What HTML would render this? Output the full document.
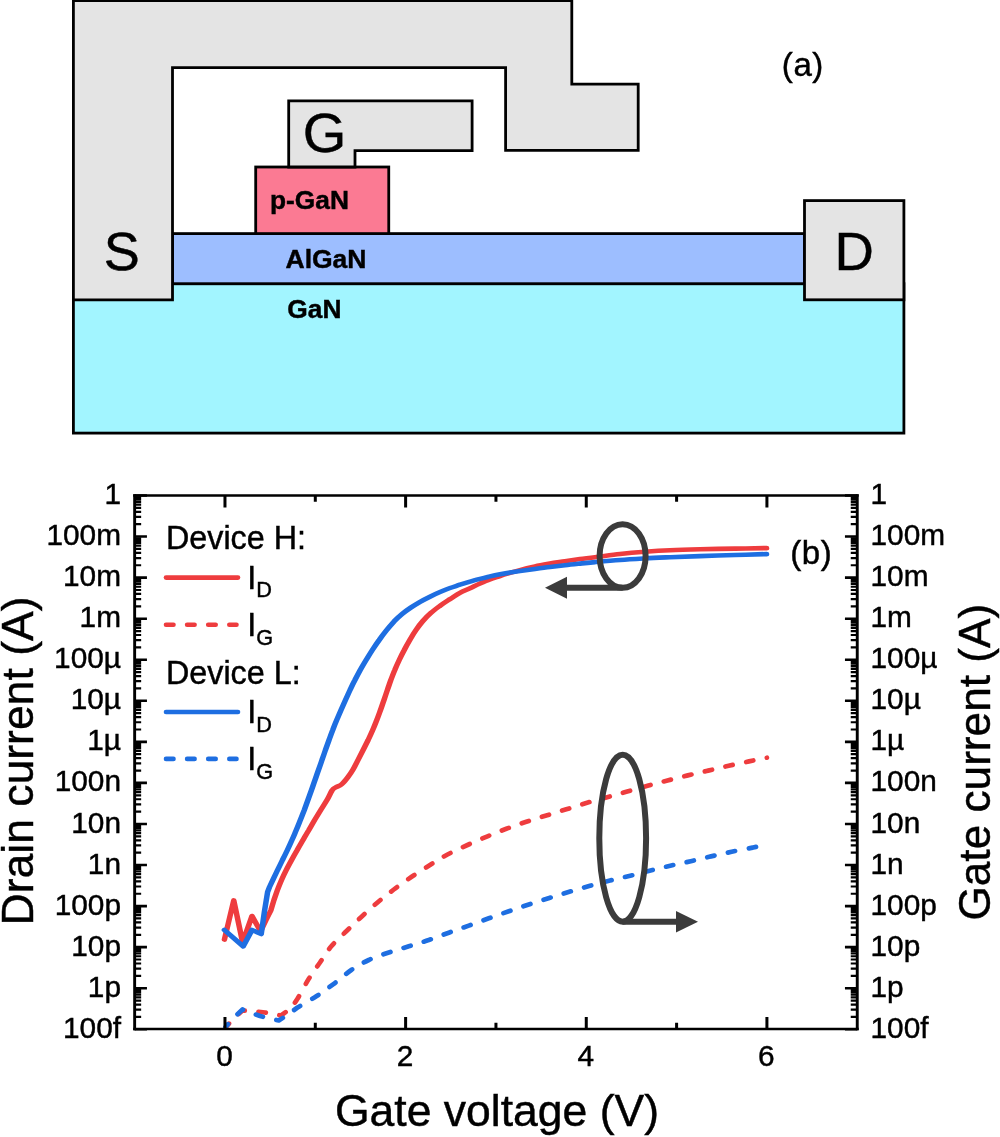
<!DOCTYPE html><html><head><meta charset="utf-8"><title>Figure</title>
<style>html,body{margin:0;padding:0;background:#fff}svg{display:block}text{font-family:"Liberation Sans",Arial,sans-serif;fill:#000;stroke:#000;stroke-width:0.45px}</style></head><body>
<svg width="1000" height="1137" viewBox="0 0 1000 1137">
<rect width="1000" height="1137" fill="#fff"/>
<g stroke="#000" stroke-width="2.8" stroke-linejoin="miter">
<rect x="73.4" y="283.7" width="830.5" height="149.4" fill="#a2f5ff"/>
<rect x="172.5" y="233.6" width="632" height="50.1" fill="#9dbeff"/>
<rect x="255.7" y="167" width="133.05" height="66.6" fill="#fb7a93"/>
<polygon points="288.7,100.9 472.1,100.9 472.1,150.6 355,150.6 355,167 288.7,167" fill="#e4e4e4"/>
<polygon points="73.4,0.7 571.8,0.7 571.8,84.2 638.2,84.2 638.2,150.3 505.6,150.3 505.6,67.6 172.5,67.6 172.5,299.8 73.4,299.8" fill="#e4e4e4"/>
<rect x="804.5" y="200.6" width="99.4" height="99.2" fill="#e4e4e4"/>
</g>
<text x="103.7" y="269.8" font-size="54">S</text>
<text x="302.7" y="152.3" font-size="56">G</text>
<text x="834.5" y="270" font-size="54.5">D</text>
<text x="270" y="208.7" font-size="26.3" font-weight="bold">p-GaN</text>
<text x="285.5" y="268.3" font-size="26.5" font-weight="bold">AlGaN</text>
<text x="287.3" y="317.6" font-size="26.3" font-weight="bold">GaN</text>
<text x="781.8" y="76" font-size="33" letter-spacing="0.6">(a)</text>
<clipPath id="pc"><rect x="134.65" y="495.5" width="722.6" height="533.5"/></clipPath>
<g fill="none" stroke-linejoin="round" stroke-linecap="round" clip-path="url(#pc)">
<path d="M766.9,757.7 C763.9,758.3 755.4,760.0 749.0,761.4 C742.6,762.8 735.4,764.3 728.6,765.8 C721.8,767.3 715.0,769.0 708.2,770.6 C701.4,772.2 694.6,773.8 687.8,775.4 C681.0,777.0 674.2,778.8 667.5,780.5 C660.8,782.2 654.4,783.9 647.5,785.8 C640.6,787.7 633.2,789.8 626.3,791.8 C619.4,793.8 613.0,795.6 606.3,797.5 C599.6,799.4 593.0,801.0 586.3,803.0 C579.6,805.0 573.0,807.2 566.3,809.3 C559.6,811.4 553.0,813.4 546.3,815.5 C539.6,817.6 533.0,819.6 526.3,821.8 C519.6,824.0 512.8,826.4 506.3,828.8 C499.8,831.2 494.0,833.6 487.5,836.3 C481.0,839.0 474.2,842.0 467.5,845.0 C460.8,848.0 453.8,851.2 447.5,854.5 C441.2,857.8 436.0,861.2 430.0,865.0 C424.0,868.8 417.3,872.9 411.3,877.0 C405.3,881.1 399.4,885.2 393.8,889.5 C388.2,893.8 382.9,897.9 377.5,902.5 C372.1,907.1 366.5,912.2 361.3,917.0 C356.1,921.8 351.3,926.4 346.3,931.3 C341.3,936.2 335.7,941.1 331.3,946.3 C326.9,951.5 323.8,957.1 320.0,962.5 C316.2,967.9 312.6,972.8 308.8,978.8 C305.1,984.8 300.6,993.8 297.5,998.8 C294.4,1003.8 291.2,1007.3 290.0,1009.0 L281.0,1015.5 L265.0,1012.5 L252.0,1011.0 L242.5,1010.5 L234.0,1018.0 L226.0,1027.0" stroke="#ee3c3e" stroke-width="4.7" stroke-dasharray="7.4 13.75" stroke-dashoffset="7.3"/>
<path d="M766.9,844.6 C764.5,845.1 758.5,846.4 752.6,847.6 C746.7,848.8 738.5,850.3 731.6,851.8 C724.7,853.3 717.8,854.8 711.0,856.4 C704.2,858.0 697.4,859.7 690.8,861.2 C684.2,862.7 677.7,864.0 671.3,865.5 C664.9,867.0 659.2,868.3 652.5,870.0 C645.8,871.7 638.4,873.8 631.3,875.5 C624.2,877.2 616.9,878.8 610.0,880.5 C603.1,882.2 596.8,883.9 590.0,885.8 C583.2,887.7 576.1,889.8 569.3,891.8 C562.5,893.8 556.0,895.9 549.3,898.0 C542.5,900.1 535.5,902.3 528.8,904.5 C522.0,906.7 515.5,909.0 508.8,911.3 C502.1,913.6 495.5,915.9 488.8,918.3 C482.1,920.7 475.5,923.2 468.8,925.6 C462.1,928.0 455.5,930.3 448.8,932.7 C442.1,935.1 435.5,937.7 428.8,940.0 C422.1,942.3 415.5,944.2 408.8,946.3 C402.1,948.4 395.5,950.2 388.8,952.5 C382.1,954.8 375.1,957.1 368.8,960.0 C362.6,962.9 357.1,966.0 351.3,970.0 C345.5,974.0 339.6,979.4 333.8,983.8 C328.0,988.2 322.4,992.3 316.3,996.3 C310.2,1000.2 300.6,1005.6 297.5,1007.5 L288.0,1014.5 L278.8,1020.5 L270.0,1018.5 L260.0,1016.0 L250.0,1012.5 L242.5,1009.5 L234.0,1017.5 L225.5,1027.0" stroke="#1e6ee1" stroke-width="4.7" stroke-dasharray="7.4 13.75" stroke-dashoffset="9.9"/>
<g transform="scale(1.2 1)" stroke-width="4.6">
<path d="M187.0,939.6 L194.8,900.4 L202.2,942.5 L210.0,916.0 L217.2,931.5 L221.7,920.0 L225.7,910.4 L228.3,900.0 L231.3,889.7 C231.9,888.0 233.5,883.0 234.7,879.8 C235.9,876.5 237.2,873.2 238.6,869.9 C240.0,866.6 241.5,863.3 243.0,860.0 C244.5,856.7 246.1,853.3 247.7,850.0 C249.2,846.7 250.9,843.3 252.5,840.0 C254.1,836.7 255.7,833.3 257.4,830.0 C259.0,826.7 260.6,823.3 262.2,820.0 C263.9,816.7 265.6,813.3 267.3,810.0 C269.0,806.7 270.9,803.2 272.5,800.0 C274.1,796.8 275.5,792.6 276.7,790.5 C277.8,788.4 278.2,788.6 279.6,787.5 C281.0,786.4 283.3,785.8 285.0,784.0 C286.7,782.2 288.5,779.4 290.0,777.0 C291.5,774.6 292.8,772.4 294.2,769.5 C295.6,766.6 297.0,763.1 298.4,759.8 C299.8,756.6 301.2,753.3 302.6,750.0 C304.0,746.7 305.4,743.3 306.8,740.0 C308.1,736.7 309.4,733.3 310.6,730.0 C311.8,726.7 312.9,723.3 314.0,720.0 C315.1,716.7 316.1,713.3 317.1,710.0 C318.1,706.7 319.0,703.3 320.0,700.0 C320.9,696.7 321.9,693.3 322.8,690.0 C323.8,686.7 324.7,683.3 325.7,680.0 C326.8,676.7 327.8,673.3 329.0,670.0 C330.1,666.7 331.4,663.3 332.7,660.0 C334.0,656.7 335.4,653.3 336.9,650.0 C338.3,646.7 339.9,643.3 341.5,640.0 C343.1,636.7 344.8,633.3 346.6,630.2 C348.4,627.0 350.3,623.8 352.4,621.0 C354.5,618.1 356.7,615.4 359.1,612.9 C361.5,610.3 364.2,608.0 366.8,605.7 C369.4,603.4 372.2,601.3 375.0,599.1 C377.8,597.0 380.6,594.6 383.3,592.8 C386.1,591.0 388.9,589.8 391.7,588.2 C394.4,586.7 397.2,585.0 400.0,583.5 C402.8,582.0 405.6,580.5 408.3,579.3 C411.1,578.0 413.9,577.1 416.7,576.0 C419.4,574.9 422.2,573.9 425.0,572.9 C427.8,571.9 429.9,571.2 433.3,570.1 C436.8,569.0 441.7,567.6 445.8,566.5 C450.0,565.4 454.2,564.5 458.3,563.6 C462.5,562.7 466.7,562.0 470.8,561.2 C475.0,560.5 479.2,559.8 483.3,559.1 C487.5,558.4 490.3,558.1 495.8,557.2 C501.4,556.4 509.7,554.9 516.7,554.0 C523.6,553.1 530.6,552.4 537.5,551.8 C544.4,551.2 550.7,550.7 558.3,550.3 C566.0,549.9 574.3,549.6 583.3,549.3 C592.4,549.0 603.3,548.8 612.5,548.6 C621.7,548.4 634.4,548.2 638.8,548.1" stroke="#ee3c3e"/>
<path d="M187.0,930.0 L202.7,946.4 L210.0,930.0 L217.7,934.0 L220.3,912.0 L223.0,892.0 L224.6,887.0 L227.8,878.9 C228.4,877.4 230.2,873.0 231.4,869.8 C232.7,866.7 234.1,863.3 235.4,860.0 C236.8,856.7 238.2,853.3 239.5,850.0 C240.8,846.7 242.1,843.3 243.3,840.0 C244.6,836.7 245.7,833.3 246.9,830.0 C248.1,826.7 249.2,823.3 250.3,820.0 C251.4,816.7 252.5,813.3 253.6,810.0 C254.6,806.7 255.6,803.3 256.6,800.0 C257.6,796.7 258.6,793.3 259.6,790.0 C260.6,786.7 261.5,783.3 262.5,780.0 C263.5,776.7 264.4,773.3 265.4,770.0 C266.4,766.7 267.4,763.3 268.3,760.0 C269.3,756.7 270.3,753.3 271.2,750.0 C272.2,746.7 273.2,743.3 274.2,740.0 C275.2,736.7 276.2,733.3 277.3,730.0 C278.3,726.7 279.4,723.3 280.6,720.0 C281.8,716.7 283.0,713.3 284.2,710.0 C285.4,706.7 286.7,703.3 287.9,700.0 C289.2,696.7 290.4,693.3 291.7,690.0 C293.0,686.7 294.3,683.3 295.8,680.0 C297.2,676.7 298.7,673.3 300.2,670.0 C301.8,666.7 303.4,663.3 305.1,660.0 C306.8,656.7 308.5,653.3 310.3,650.0 C312.1,646.7 314.0,643.3 316.0,640.0 C317.9,636.7 320.0,633.3 322.1,630.2 C324.2,627.1 326.4,624.1 328.5,621.3 C330.7,618.6 332.9,616.2 335.2,613.9 C337.5,611.6 339.8,609.6 342.3,607.6 C344.8,605.6 347.4,603.7 350.1,601.8 C352.8,600.0 355.6,598.3 358.3,596.7 C361.1,595.0 363.9,593.4 366.7,592.0 C369.4,590.6 372.2,589.2 375.0,588.0 C377.8,586.8 380.6,585.8 383.3,584.7 C386.1,583.7 388.9,582.7 391.7,581.7 C394.4,580.7 397.2,579.8 400.0,578.9 C402.8,578.0 405.6,577.2 408.3,576.4 C411.1,575.6 413.9,574.9 416.7,574.3 C419.4,573.7 422.2,573.1 425.0,572.6 C427.8,572.1 429.9,571.7 433.3,571.1 C436.8,570.5 441.7,569.7 445.8,569.0 C450.0,568.3 454.2,567.6 458.3,567.0 C462.5,566.4 466.7,565.8 470.8,565.2 C475.0,564.6 479.2,564.1 483.3,563.6 C487.5,563.1 490.3,562.7 495.8,562.1 C501.4,561.5 509.7,560.6 516.7,560.0 C523.6,559.4 530.6,558.9 537.5,558.4 C544.4,557.9 550.7,557.6 558.3,557.2 C566.0,556.8 574.3,556.5 583.3,556.1 C592.4,555.7 603.3,555.3 612.5,555.0 C621.7,554.7 634.4,554.2 638.8,554.1" stroke="#1e6ee1"/>
</g></g>
<g stroke="#000" fill="none">
<path d="M134.65,524.20h6.5M857.25,524.20h-6.5M134.65,516.97h6.5M857.25,516.97h-6.5M134.65,511.84h6.5M857.25,511.84h-6.5M134.65,507.86h6.5M857.25,507.86h-6.5M134.65,504.61h6.5M857.25,504.61h-6.5M134.65,501.86h6.5M857.25,501.86h-6.5M134.65,499.48h6.5M857.25,499.48h-6.5M134.65,497.38h6.5M857.25,497.38h-6.5M134.65,565.26h6.5M857.25,565.26h-6.5M134.65,558.03h6.5M857.25,558.03h-6.5M134.65,552.90h6.5M857.25,552.90h-6.5M134.65,548.92h6.5M857.25,548.92h-6.5M134.65,545.67h6.5M857.25,545.67h-6.5M134.65,542.92h6.5M857.25,542.92h-6.5M134.65,540.54h6.5M857.25,540.54h-6.5M134.65,538.44h6.5M857.25,538.44h-6.5M134.65,606.32h6.5M857.25,606.32h-6.5M134.65,599.09h6.5M857.25,599.09h-6.5M134.65,593.96h6.5M857.25,593.96h-6.5M134.65,589.98h6.5M857.25,589.98h-6.5M134.65,586.73h6.5M857.25,586.73h-6.5M134.65,583.98h6.5M857.25,583.98h-6.5M134.65,581.60h6.5M857.25,581.60h-6.5M134.65,579.50h6.5M857.25,579.50h-6.5M134.65,647.38h6.5M857.25,647.38h-6.5M134.65,640.15h6.5M857.25,640.15h-6.5M134.65,635.02h6.5M857.25,635.02h-6.5M134.65,631.04h6.5M857.25,631.04h-6.5M134.65,627.79h6.5M857.25,627.79h-6.5M134.65,625.04h6.5M857.25,625.04h-6.5M134.65,622.66h6.5M857.25,622.66h-6.5M134.65,620.56h6.5M857.25,620.56h-6.5M134.65,688.44h6.5M857.25,688.44h-6.5M134.65,681.21h6.5M857.25,681.21h-6.5M134.65,676.08h6.5M857.25,676.08h-6.5M134.65,672.10h6.5M857.25,672.10h-6.5M134.65,668.85h6.5M857.25,668.85h-6.5M134.65,666.10h6.5M857.25,666.10h-6.5M134.65,663.72h6.5M857.25,663.72h-6.5M134.65,661.62h6.5M857.25,661.62h-6.5M134.65,729.50h6.5M857.25,729.50h-6.5M134.65,722.27h6.5M857.25,722.27h-6.5M134.65,717.14h6.5M857.25,717.14h-6.5M134.65,713.16h6.5M857.25,713.16h-6.5M134.65,709.91h6.5M857.25,709.91h-6.5M134.65,707.16h6.5M857.25,707.16h-6.5M134.65,704.78h6.5M857.25,704.78h-6.5M134.65,702.68h6.5M857.25,702.68h-6.5M134.65,770.56h6.5M857.25,770.56h-6.5M134.65,763.33h6.5M857.25,763.33h-6.5M134.65,758.20h6.5M857.25,758.20h-6.5M134.65,754.22h6.5M857.25,754.22h-6.5M134.65,750.97h6.5M857.25,750.97h-6.5M134.65,748.22h6.5M857.25,748.22h-6.5M134.65,745.84h6.5M857.25,745.84h-6.5M134.65,743.74h6.5M857.25,743.74h-6.5M134.65,811.62h6.5M857.25,811.62h-6.5M134.65,804.39h6.5M857.25,804.39h-6.5M134.65,799.26h6.5M857.25,799.26h-6.5M134.65,795.28h6.5M857.25,795.28h-6.5M134.65,792.03h6.5M857.25,792.03h-6.5M134.65,789.28h6.5M857.25,789.28h-6.5M134.65,786.90h6.5M857.25,786.90h-6.5M134.65,784.80h6.5M857.25,784.80h-6.5M134.65,852.68h6.5M857.25,852.68h-6.5M134.65,845.45h6.5M857.25,845.45h-6.5M134.65,840.32h6.5M857.25,840.32h-6.5M134.65,836.34h6.5M857.25,836.34h-6.5M134.65,833.09h6.5M857.25,833.09h-6.5M134.65,830.34h6.5M857.25,830.34h-6.5M134.65,827.96h6.5M857.25,827.96h-6.5M134.65,825.86h6.5M857.25,825.86h-6.5M134.65,893.74h6.5M857.25,893.74h-6.5M134.65,886.51h6.5M857.25,886.51h-6.5M134.65,881.38h6.5M857.25,881.38h-6.5M134.65,877.40h6.5M857.25,877.40h-6.5M134.65,874.15h6.5M857.25,874.15h-6.5M134.65,871.40h6.5M857.25,871.40h-6.5M134.65,869.02h6.5M857.25,869.02h-6.5M134.65,866.92h6.5M857.25,866.92h-6.5M134.65,934.80h6.5M857.25,934.80h-6.5M134.65,927.57h6.5M857.25,927.57h-6.5M134.65,922.44h6.5M857.25,922.44h-6.5M134.65,918.46h6.5M857.25,918.46h-6.5M134.65,915.21h6.5M857.25,915.21h-6.5M134.65,912.46h6.5M857.25,912.46h-6.5M134.65,910.08h6.5M857.25,910.08h-6.5M134.65,907.98h6.5M857.25,907.98h-6.5M134.65,975.86h6.5M857.25,975.86h-6.5M134.65,968.63h6.5M857.25,968.63h-6.5M134.65,963.50h6.5M857.25,963.50h-6.5M134.65,959.52h6.5M857.25,959.52h-6.5M134.65,956.27h6.5M857.25,956.27h-6.5M134.65,953.52h6.5M857.25,953.52h-6.5M134.65,951.14h6.5M857.25,951.14h-6.5M134.65,949.04h6.5M857.25,949.04h-6.5M134.65,1016.92h6.5M857.25,1016.92h-6.5M134.65,1009.69h6.5M857.25,1009.69h-6.5M134.65,1004.56h6.5M857.25,1004.56h-6.5M134.65,1000.58h6.5M857.25,1000.58h-6.5M134.65,997.33h6.5M857.25,997.33h-6.5M134.65,994.58h6.5M857.25,994.58h-6.5M134.65,992.20h6.5M857.25,992.20h-6.5M134.65,990.10h6.5M857.25,990.10h-6.5" stroke-width="2.2"/>
<path d="M134.65,495.50h12.3M857.25,495.50h-12.3M134.65,536.56h12.3M857.25,536.56h-12.3M134.65,577.62h12.3M857.25,577.62h-12.3M134.65,618.68h12.3M857.25,618.68h-12.3M134.65,659.74h12.3M857.25,659.74h-12.3M134.65,700.80h12.3M857.25,700.80h-12.3M134.65,741.86h12.3M857.25,741.86h-12.3M134.65,782.92h12.3M857.25,782.92h-12.3M134.65,823.98h12.3M857.25,823.98h-12.3M134.65,865.04h12.3M857.25,865.04h-12.3M134.65,906.10h12.3M857.25,906.10h-12.3M134.65,947.16h12.3M857.25,947.16h-12.3M134.65,988.22h12.3M857.25,988.22h-12.3M134.65,1029.28h12.3M857.25,1029.28h-12.3" stroke-width="2.6"/>
<path d="M224.97,1029.0v-12.0M224.97,495.5v12.0M315.30,1029.0v-6.3M315.30,495.5v6.3M405.62,1029.0v-12.0M405.62,495.5v12.0M495.95,1029.0v-6.3M495.95,495.5v6.3M586.27,1029.0v-12.0M586.27,495.5v12.0M676.60,1029.0v-6.3M676.60,495.5v6.3M766.92,1029.0v-12.0M766.92,495.5v12.0" stroke-width="3"/>
<path d="M134.65,494.275V1030.225M857.25,494.275V1030.225" stroke-width="2.9"/>
<path d="M133.20000000000002,495.5H858.7M133.20000000000002,1029.0H858.7" stroke-width="2.45"/>
</g>
<g font-size="29.8">
<text x="121" y="504.0" text-anchor="end">1</text>
<text x="870.5" y="504.0">1</text>
<text x="121" y="545.1" text-anchor="end">100m</text>
<text x="870.5" y="545.1">100m</text>
<text x="121" y="586.1" text-anchor="end">10m</text>
<text x="870.5" y="586.1">10m</text>
<text x="121" y="627.2" text-anchor="end">1m</text>
<text x="870.5" y="627.2">1m</text>
<text x="121" y="668.2" text-anchor="end">100µ</text>
<text x="870.5" y="668.2">100µ</text>
<text x="121" y="709.3" text-anchor="end">10µ</text>
<text x="870.5" y="709.3">10µ</text>
<text x="121" y="750.4" text-anchor="end">1µ</text>
<text x="870.5" y="750.4">1µ</text>
<text x="121" y="791.4" text-anchor="end">100n</text>
<text x="870.5" y="791.4">100n</text>
<text x="121" y="832.5" text-anchor="end">10n</text>
<text x="870.5" y="832.5">10n</text>
<text x="121" y="873.5" text-anchor="end">1n</text>
<text x="870.5" y="873.5">1n</text>
<text x="121" y="914.6" text-anchor="end">100p</text>
<text x="870.5" y="914.6">100p</text>
<text x="121" y="955.7" text-anchor="end">10p</text>
<text x="870.5" y="955.7">10p</text>
<text x="121" y="996.7" text-anchor="end">1p</text>
<text x="870.5" y="996.7">1p</text>
<text x="121" y="1037.8" text-anchor="end">100f</text>
<text x="870.5" y="1037.8">100f</text>
<text x="224.5" y="1065.5" text-anchor="middle">0</text>
<text x="405.1" y="1065.5" text-anchor="middle">2</text>
<text x="585.8" y="1065.5" text-anchor="middle">4</text>
<text x="766.4" y="1065.5" text-anchor="middle">6</text>
</g>
<text x="497" y="1126" font-size="44.5" text-anchor="middle">Gate voltage (V)</text>
<text transform="translate(33,761) rotate(-90)" font-size="44.5" text-anchor="middle">Drain current (A)</text>
<text transform="translate(990.3,762.2) rotate(-90)" font-size="44.2" text-anchor="middle">Gate current (A)</text>
<g font-size="32.3">
<text x="166" y="549">Device H:</text>
<text x="166" y="683.5">Device L:</text>
<path d="M166,577.6H238" stroke="#ee3c3e" stroke-width="4.6" stroke-linecap="round" fill="none"/>
<text x="247.2" y="588.9">I<tspan font-size="21.7" dy="8.5">D</tspan></text>
<path d="M166,624.8H236.5" stroke="#ee3c3e" stroke-width="4.6" stroke-linecap="round" fill="none" stroke-dasharray="7.5 13.6"/>
<text x="247.2" y="636.0999999999999">I<tspan font-size="21.7" dy="8.5">G</tspan></text>
<path d="M166,712H238" stroke="#1e6ee1" stroke-width="4.6" stroke-linecap="round" fill="none"/>
<text x="247.2" y="723.3">I<tspan font-size="21.7" dy="8.5">D</tspan></text>
<path d="M166,758.9H236.5" stroke="#1e6ee1" stroke-width="4.6" stroke-linecap="round" fill="none" stroke-dasharray="7.5 13.6"/>
<text x="247.2" y="770.1999999999999">I<tspan font-size="21.7" dy="8.5">G</tspan></text>
</g>
<text x="790.2" y="564.2" font-size="33" letter-spacing="0.6">(b)</text>
<g stroke="#3b3b3b" stroke-width="6" fill="none">
<ellipse cx="622.6" cy="556" rx="23" ry="31.8"/>
<path d="M622.6,587.8H565"/>
<ellipse cx="622.7" cy="838.2" rx="23.4" ry="83.5"/>
<path d="M622.7,921.7H678"/>
</g>
<polygon points="545,587.8 567,576.8 567,598.8" fill="#3b3b3b"/>
<polygon points="698,921.7 676,910.9 676,932.5" fill="#3b3b3b"/>
</svg></body></html>
